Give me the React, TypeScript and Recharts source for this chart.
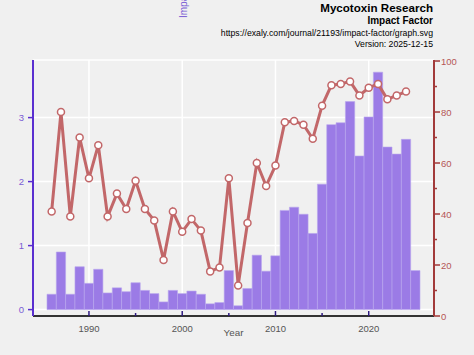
import { ComposedChart, Bar, Line, XAxis, YAxis, CartesianGrid } from 'recharts';

const YEARS = [
  1986, 1987, 1988, 1989, 1990, 1991, 1992, 1993, 1994, 1995,
  1996, 1997, 1998, 1999, 2000, 2001, 2002, 2003, 2004, 2005,
  2006, 2007, 2008, 2009, 2010, 2011, 2012, 2013, 2014, 2015,
  2016, 2017, 2018, 2019, 2020, 2021, 2022, 2023, 2024, 2025,
];

// impact factor (left axis)
const IMPACT = [
  0.24, 0.9, 0.24, 0.67, 0.41, 0.63, 0.26, 0.34, 0.28, 0.42,
  0.3, 0.25, 0.12, 0.3, 0.25, 0.29, 0.24, 0.09, 0.11, 0.61,
  0.06, 0.33, 0.85, 0.6, 0.84, 1.55, 1.6, 1.49, 1.19, 1.96,
  2.89, 2.92, 3.25, 2.4, 3.01, 3.71, 2.54, 2.43, 2.66, 0.61,
];

// percentile (right axis), no value for the last year
const PERCENTILE = [
  41, 80, 39, 70, 54, 67, 39, 48, 42, 53,
  42, 37.5, 22, 41, 33, 38, 33.5, 17.5, 19, 54,
  12, 36.5, 60, 51, 59, 76, 76.5, 75, 69.5, 82.5,
  90.5, 91, 92, 86.5, 89.5, 91, 85, 86.5, 88, null,
];

const X_TICKS = [1990, 1995, 2000, 2005, 2010, 2015, 2020];
const X_GRID = [1990, 2000, 2010, 2020];
const LEFT_TICKS = [0, 1, 2, 3];
const RIGHT_TICKS = [0, 10, 20, 30, 40, 50, 60, 70, 80, 90, 100];

const X_DOMAIN: [number, number] = [1984, 2027];

const FONT = '"Liberation Sans", Arial, sans-serif';
const TICK_FS = 9.5;
const BAR_COLOR = '#9b7be6';
const LINE_COLOR = '#c26769';
const LEFT_COLOR = '#5a2fd0';
const RIGHT_COLOR = '#a23a3a';

const data = YEARS.map((year, i) => ({
  year,
  impact: IMPACT[i],
  pct: PERCENTILE[i],
}));

function XTick(props: any) {
  const { x, y, payload } = props;
  const major = payload.value % 10 === 0;
  return (
    <g>
      <line x1={x} x2={x} y1={y} y2={y - (major ? 5 : 3)} stroke="#2e1a80" strokeWidth={1.5} />
      {major && (
        <text x={x} y={y + 16} textAnchor="middle" fontSize={TICK_FS} fill="#555" fontFamily={FONT}>
          {payload.value}
        </text>
      )}
    </g>
  );
}

function LeftTick(props: any) {
  const { x, y, payload } = props;
  return (
    <g>
      <line x1={x} x2={x - 5} y1={y} y2={y} stroke={LEFT_COLOR} strokeWidth={1.5} />
      <text x={x - 9} y={y + 3.5} textAnchor="end" fontSize={TICK_FS} fill="#7a5cd4" fontFamily={FONT}>
        {payload.value}
      </text>
    </g>
  );
}

function RightTick(props: any) {
  const { x, y, payload } = props;
  const major = payload.value % 20 === 0;
  return (
    <g>
      <line x1={x} x2={x + (major ? 6 : 3)} y1={y} y2={y} stroke={RIGHT_COLOR} strokeWidth={1.5} />
      {major && (
        <text x={x + 7} y={y + 3.5} textAnchor="start" fontSize={TICK_FS} fill="#b55656" fontFamily={FONT}>
          {payload.value}
        </text>
      )}
    </g>
  );
}

function verticalGrid(props: any) {
  const { xAxis, offset } = props;
  if (xAxis && typeof xAxis.scale === 'function') {
    return X_GRID.map((yr) => xAxis.scale(yr));
  }
  const span = X_DOMAIN[1] - X_DOMAIN[0];
  return X_GRID.map((yr) => offset.left + ((yr - X_DOMAIN[0]) / span) * offset.width);
}

export default function App() {
  return (
    <div
      style={{
        position: 'absolute',
        left: 0,
        top: 0,
        width: 474,
        height: 355,
        background: '#f0f0f0',
        fontFamily: FONT,
      }}
    >
      <ComposedChart
        width={474}
        height={355}
        data={data}
        margin={{ top: 60, right: 0, bottom: 0, left: 0 }}
      >
        <CartesianGrid
          yAxisId="left"
          stroke="#ffffff"
          strokeWidth={1.5}
          verticalCoordinatesGenerator={verticalGrid}
        />
        <XAxis
          dataKey="year"
          type="number"
          domain={X_DOMAIN}
          ticks={X_TICKS}
          interval={0}
          tick={XTick}
          tickLine={false}
          tickSize={0}
          tickMargin={0}
          height={39}
          axisLine={{ stroke: '#333', strokeWidth: 2 }}
          label={{ value: 'Year', position: 'insideBottom', offset: 19.5, fill: '#555', fontSize: 9.8, fontFamily: FONT }}
        />
        <YAxis
          yAxisId="left"
          orientation="left"
          width={33}
          domain={[-0.1, 3.9]}
          ticks={LEFT_TICKS}
          interval={0}
          tick={LeftTick}
          tickLine={false}
          tickSize={0}
          tickMargin={0}
          axisLine={{ stroke: LEFT_COLOR, strokeWidth: 2 }}
        />
        <YAxis
          yAxisId="right"
          orientation="right"
          width={40}
          domain={[0, 100.4]}
          ticks={RIGHT_TICKS}
          interval={0}
          tick={RightTick}
          tickLine={false}
          tickSize={0}
          tickMargin={0}
          axisLine={{ stroke: RIGHT_COLOR, strokeWidth: 2 }}
        />
        <Bar
          yAxisId="left"
          dataKey="impact"
          fill={BAR_COLOR}
          stroke="#b9a6ef"
          strokeWidth={0.6}
          barSize={9.3}
          isAnimationActive={false}
        />
        <Line
          yAxisId="right"
          dataKey="pct"
          stroke={LINE_COLOR}
          strokeWidth={3}
          dot={{ r: 3.5, fill: '#ffffff', stroke: LINE_COLOR, strokeWidth: 1.5 }}
          activeDot={false}
          connectNulls={false}
          isAnimationActive={false}
        />
      </ComposedChart>
      <svg
        width={474}
        height={355}
        style={{ position: 'absolute', left: 0, top: 0, pointerEvents: 'none' }}
      >
        <text x={187} y={18} transform="rotate(-90 187 18)" fontSize={10} fill="#7a5cd4" fontFamily={FONT}>
          Impact Factor
        </text>
        <text x={433} y={12} textAnchor="end" fontSize={11.6} fontWeight="bold" fill="#000" fontFamily={FONT}>
          Mycotoxin Research
        </text>
        <text x={433} y={24} textAnchor="end" fontSize={10} fontWeight="bold" fill="#000" fontFamily={FONT}>
          Impact Factor
        </text>
        <text x={433} y={36} textAnchor="end" fontSize={8.7} fill="#000" fontFamily={FONT}>
          https://exaly.com/journal/21193/impact-factor/graph.svg
        </text>
        <text x={433} y={46.5} textAnchor="end" fontSize={8.7} fill="#000" fontFamily={FONT}>
          Version: 2025-12-15
        </text>
      </svg>
    </div>
  );
}
